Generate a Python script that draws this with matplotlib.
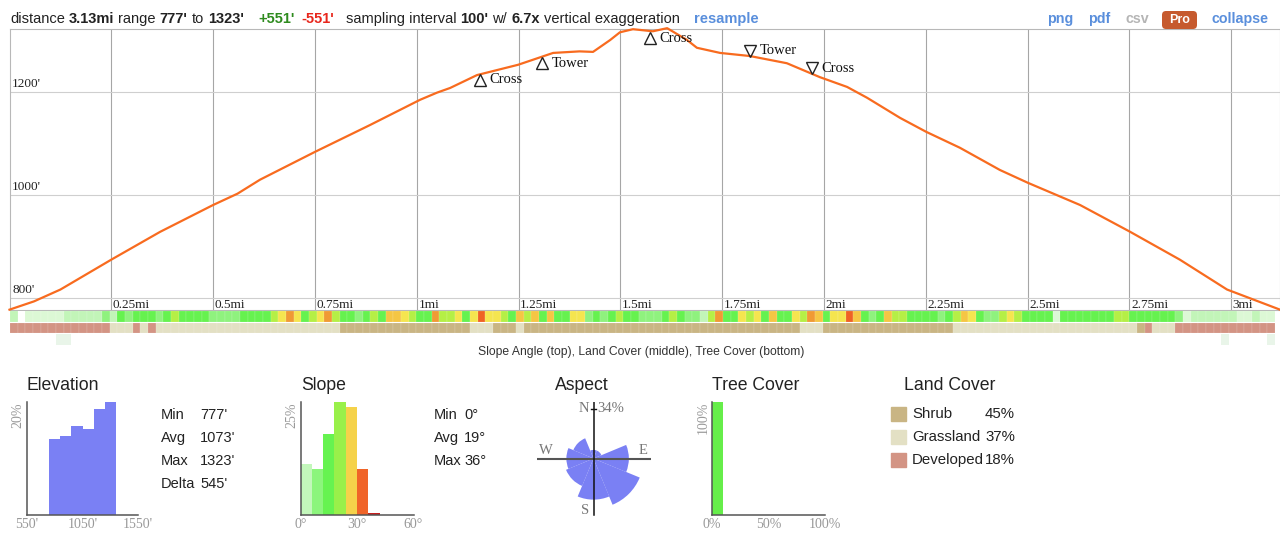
import numpy as np
import matplotlib
matplotlib.use('Agg')
import matplotlib.pyplot as plt
from matplotlib.patches import Wedge, Rectangle, FancyBboxPatch

SANS = 'Liberation Sans'
SERIF = 'Liberation Serif'
plt.rcParams['font.family'] = SANS

# ---- profile (miles, feet) ----
dist_mi = [0.0, 0.06, 0.125, 0.25, 0.37, 0.5, 0.56, 0.615, 0.75, 0.885, 1.008, 1.05,
           1.082, 1.148, 1.249, 1.335, 1.40, 1.433, 1.475, 1.499, 1.531, 1.58, 1.615,
           1.664, 1.688, 1.745, 1.818, 1.909, 1.99, 2.057, 2.106, 2.187, 2.251, 2.334,
           2.432, 2.501, 2.629, 2.752, 2.874, 2.99, 3.06, 3.12]
elev_ft = [777, 793, 816, 874, 928, 980, 1002, 1029, 1083, 1135, 1184, 1198,
           1207, 1232, 1252, 1275, 1278, 1277, 1300, 1315, 1321, 1317, 1323,
           1300, 1285, 1275, 1269, 1255, 1228, 1209, 1188, 1149, 1122, 1091,
           1048, 1023, 980, 928, 874, 816, 795, 777]

wp_name = ['Cross', 'Tower', 'Cross', 'Tower', 'Cross']
wp_mi = [1.155, 1.307, 1.573, 1.818, 1.970]
wp_ft = [1223, 1255, 1303, 1279, 1245]
wp_up = [True, True, True, False, False]

# ---- strip under the profile (165 cells of 100') ----
slope_class = ("2011111222" "2232434443" "4544443333" "4444568645"
               "6854434547" "7654485564" "6966547574" "7446634345"
               "4433345433" "2584465647" "4465874669" "7434755444"
               "4345764335" "6544441444" "4444554444" "4431222222" "11211")
slope_colors = ['#ffffff', '#dcf8d5', '#c2f5b8', '#8ff27e', '#66f24f',
                '#b5ef46', '#f5e54f', '#f5c644', '#f09a34', '#ef6224']
land_runs = [('Developed', 13), ('Grassland', 3), ('Developed', 1), ('Grassland', 1),
             ('Developed', 1), ('Grassland', 24), ('Shrub', 17), ('Grassland', 3),
             ('Shrub', 3), ('Grassland', 1), ('Shrub', 36), ('Grassland', 3),
             ('Shrub', 17), ('Grassland', 24), ('Shrub', 1), ('Developed', 1),
             ('Grassland', 3), ('Developed', 13)]
land_colors = {'Shrub': '#c9b584', 'Grassland': '#e3e0c4', 'Developed': '#d39484'}
tree_cells = [6, 7, 158, 164]

# ---- summary panels ----
elev_edges = [750, 850, 950, 1050, 1150, 1250, 1350]
elev_pct = [13.4, 14.0, 15.8, 15.2, 18.8, 20.0]
elev_stats = [('Min', "777'"), ('Avg', "1073'"), ('Max', "1323'"), ('Delta', "545'")]

slope_edges = [0, 6, 12, 18, 24, 30, 36, 42]
slope_pct = [11.2, 10.1, 17.9, 25.0, 23.8, 10.1, 0.5]
slope_hist_colors = ['#c3f7bb', '#8cf57c', '#66f350', '#99f04a', '#f5d24a', '#f06428', '#c62020']
slope_stats = [('Min', '0°'), ('Avg', '19°'), ('Max', '36°')]

aspect_bearing = [0, 45, 90, 135, 180, 225, 270, 315]
aspect_pct = [1.0, 1.0, 17, 34, 23, 12, 10, 6.5]

tree_edges = [0, 10]
tree_pct = [100]

land_names = ['Shrub', 'Grassland', 'Developed']
land_pct = [45, 37, 18]

W, H = 1280, 538
fig = plt.figure(figsize=(W / 100, H / 100), dpi=100)


def add_ax(x0, y0, x1, y1):
    return fig.add_axes([x0 / W, 1 - y1 / H, (x1 - x0) / W, (y1 - y0) / H])


# main profile
ax = add_ax(9.5, 29, 1280, 309.5)
ax.set_xlim(0, 3.12)
ax.set_ylim(777.3, 1321.4)
ax.set_xticks([])
ax.set_yticks([])
for s in ax.spines.values():
    s.set_color('#b8b8b8')
    s.set_linewidth(0.8)
for d in np.arange(0.25, 3.01, 0.25):
    ax.axvline(d, color='#a6a6a6', lw=0.8, zorder=1)
    lab = ('%g' % d) + 'mi'
    ax.annotate(lab, (d, 800), xytext=(1.2, -1), textcoords='offset points',
                ha='left', va='top', family=SERIF, size=9.5, color='#222')
for e in [800, 1000, 1200]:
    ax.axhline(e, color='#cfcfcf', lw=0.8, zorder=1)
    ax.annotate("%d'" % e, (0, e), xytext=(2, 1), textcoords='offset points',
                ha='left', va='bottom', family=SERIF, size=9.5, color='#222')
ax.plot(dist_mi, elev_ft, color='#f86b1f', lw=1.6, zorder=3, clip_on=False,
        solid_joinstyle='round')
for n, m, e, up in zip(wp_name, wp_mi, wp_ft, wp_up):
    ax.plot(m, e, marker='^' if up else 'v', ms=9, mfc='none', mec='#222', mew=1.0, zorder=4)
    ax.annotate(n, (m, e), xytext=(7, 0), textcoords='offset points', ha='left',
                va='center', family=SERIF, size=10.5, color='#111')

# strip
sx = add_ax(10, 311, 1275, 345.5)
ncell = len(slope_class)
sx.set_xlim(0, ncell)
sx.set_ylim(3, 0)
sx.axis('off')
idx = np.arange(ncell)
sx.bar(idx, 0.93, bottom=0, width=1, align='edge',
       color=[slope_colors[int(c)] for c in slope_class],
       edgecolor=(1, 1, 1, 0.3), linewidth=0.3)
land_cells = []
for name, k in land_runs:
    land_cells += [name] * k
sx.bar(np.arange(len(land_cells)), 0.93, bottom=1.0, width=1, align='edge',
       color=[land_colors[c] for c in land_cells], edgecolor=(1, 1, 1, 0.3), linewidth=0.3)
sx.bar(tree_cells, 0.93, bottom=2.0, width=1, align='edge', color='#e9f5e9')

# overlay for free text
ov = fig.add_axes([0, 0, 1, 1])
ov.set_xlim(0, W)
ov.set_ylim(H, 0)
ov.axis('off')

ov.text(641, 352, 'Slope Angle (top), Land Cover (middle), Tree Cover (bottom)',
        ha='center', va='center', size=8.7, color='#333')


def hist_style(a, xt, xl, ytxt):
    for s in ['top', 'right']:
        a.spines[s].set_visible(False)
    for s in ['left', 'bottom']:
        a.spines[s].set_color('#555')
        a.spines[s].set_linewidth(1.1)
    a.set_yticks([])
    a.set_xticks(xt, xl)
    a.tick_params(axis='x', length=0, pad=2, labelsize=10, labelcolor='#999')
    plt.setp(a.get_xticklabels(), family=SERIF)
    a.annotate(ytxt, (0, 1), xycoords='axes fraction', xytext=(-6.5, 0),
               textcoords='offset points', rotation=90, ha='center', va='top',
               color='#999', family=SERIF, size=10)


TITLE = 12.7
STAT = 10.5

# elevation histogram
eh = add_ax(27, 402, 138, 515)
eh.bar(elev_edges[:-1], elev_pct, width=np.diff(elev_edges), align='edge', color='#7a80f4')
eh.set_xlim(550, 1550)
eh.set_ylim(0, max(elev_pct))
hist_style(eh, [550, 1050, 1550], ["550'", "1050'", "1550'"], '20%')
ov.text(27, 385, 'Elevation', ha='left', va='center', size=TITLE, color='#222')
for i, (k, v) in enumerate(elev_stats):
    ov.text(161, 415 + 23 * i, k, ha='left', va='center', size=STAT, color='#222')
    ov.text(200, 415 + 23 * i, v, ha='left', va='center', size=STAT, color='#222')

# slope histogram
sh = add_ax(300.5, 402, 413.5, 515)
sh.bar(slope_edges[:-1], slope_pct, width=np.diff(slope_edges), align='edge',
       color=slope_hist_colors)
sh.set_xlim(0, 60)
sh.set_ylim(0, max(slope_pct))
hist_style(sh, [0, 30, 60], ['0°', '30°', '60°'], '25%')
ov.text(301, 385, 'Slope', ha='left', va='center', size=TITLE, color='#222')
for i, (k, v) in enumerate(slope_stats):
    ov.text(434, 415 + 23 * i, k, ha='left', va='center', size=STAT, color='#222')
    ov.text(464, 415 + 23 * i, v, ha='left', va='center', size=STAT, color='#222')

# aspect rose
asx = add_ax(536.5, 401.5, 650.5, 515.5)
asx.set_xlim(-57, 57)
asx.set_ylim(-57, 57)
asx.axis('off')
rmax = 50
pmax = max(aspect_pct)
for b, p in zip(aspect_bearing, aspect_pct):
    r = rmax * np.sqrt(p / pmax)
    asx.add_patch(Wedge((0, 0), r, 90 - b - 22.6, 90 - b + 22.6, color='#7a80f4', lw=0))
asx.plot([-56.5, 56.5], [0, 0], color='#555', lw=1.5)
asx.plot([0, 0], [-56.5, 56.5], color='#111', lw=1.1)
asx.plot([-2.5, 2.5], [rmax, rmax], color='#111', lw=1.0)
akw = dict(family=SERIF, size=10.5, color='#777', va='center')
asx.text(-4, rmax, 'N', ha='right', **akw)
asx.text(4, rmax, '%d%%' % pmax, ha='left', **akw)
asx.text(-48, 8.5, 'W', ha='center', **akw)
asx.text(50, 8.5, 'E', ha='center', **akw)
asx.text(-8.5, -51.5, 'S', ha='center', **akw)
ov.text(555, 385, 'Aspect', ha='left', va='center', size=TITLE, color='#222')

# tree cover histogram
th = add_ax(712, 402, 825, 515)
th.bar(tree_edges[:-1], tree_pct, width=np.diff(tree_edges), align='edge', color='#66ee4a')
th.set_xlim(0, 100)
th.set_ylim(0, 100)
hist_style(th, [0, 50, 100], ['0%', '50%', '100%'], '100%')
ov.text(712, 385, 'Tree Cover', ha='left', va='center', size=TITLE, color='#222')

# land cover legend
ov.text(904, 385, 'Land Cover', ha='left', va='center', size=TITLE, color='#222')
for i, (n, p) in enumerate(zip(land_names, land_pct)):
    y = 414 + 23 * i
    ov.add_patch(Rectangle((891, y - 7), 15, 14, color=land_colors[n]))
    ov.text(912, y, n, ha='left', va='center', size=10.8, color='#222')
    ov.text(1015, y, '%d%%' % p, ha='right', va='center', size=10.8, color='#222')

# header line
rend = fig.canvas.get_renderer()
header = [(0, 'distance', False, '#222'), (4, '3.13mi', True, '#222'),
          (4, 'range', False, '#222'), (4, "777'", True, '#222'),
          (4, 'to', False, '#222'), (4, "1323'", True, '#222'),
          (15, "+551'", True, '#2e8b1e'), (6, "-551'", True, '#e8261c'),
          (12, 'sampling interval', False, '#222'), (4, "100'", True, '#222'),
          (4, 'w/', False, '#222'), (4, '6.7x', True, '#222'),
          (4, 'vertical exaggeration', False, '#222'), (14, 'resample', True, '#5a8fdc')]
x = 10
for gap, txt, bold, col in header:
    x += gap
    t = ov.text(x, 19, txt, ha='left', va='center', size=10.5,
                fontweight='bold' if bold else 'normal', color=col)
    x += t.get_window_extent(rend).width

ov.text(1047, 19, 'png', ha='left', va='center', size=10.3, fontweight='bold', color='#5a8fdc')
ov.text(1088, 19, 'pdf', ha='left', va='center', size=10.3, fontweight='bold', color='#5a8fdc')
ov.text(1126, 19, 'csv', ha='left', va='center', size=10.3, fontweight='bold', color='#b5b5b5')
ov.add_patch(FancyBboxPatch((1162, 11), 35, 18, boxstyle='round,pad=0,rounding_size=4',
                            color='#c65a2e', lw=0))
ov.text(1179.5, 20, 'Pro', ha='center', va='center', size=9, fontweight='bold', color='white')
ov.text(1212, 19, 'collapse', ha='left', va='center', size=10.3, fontweight='bold', color='#5a8fdc')

fig.savefig('out.png', dpi=100)
